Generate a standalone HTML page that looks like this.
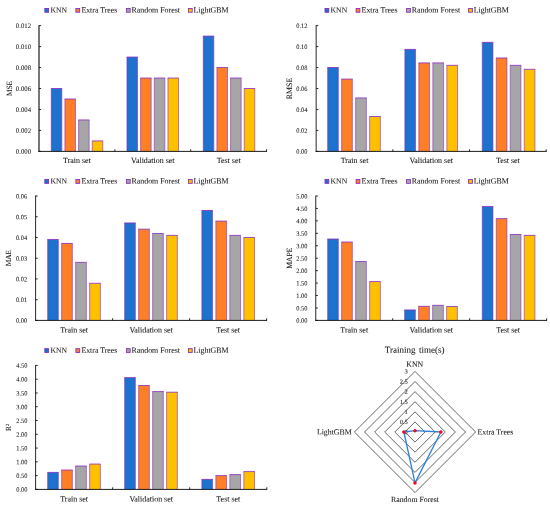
<!DOCTYPE html>
<html lang="en">
<head>
<meta charset="utf-8">
<title>Model comparison charts</title>
<style>
html,body{margin:0;padding:0;background:#fff;}
body{width:550px;height:510px;overflow:hidden;}
svg{display:block;font-family:'Liberation Serif','Times New Roman',serif;fill:#111;text-rendering:geometricPrecision;}
svg text{fill:#151515;stroke:#151515;stroke-width:0.06px;}
</style>
</head>
<body>
<svg width="550" height="510" viewBox="0 0 550 510">
<rect width="550" height="510" fill="#fff"/>
<rect x="51.25" y="88.50" width="10.55" height="62.90" fill="#1d72cd"/>
<path d="M51.25 151.40V88.50M61.80 88.50V151.40" fill="none" stroke="#8a28c2" stroke-width="0.6"/>
<path d="M50.95 88.50h11.15" fill="none" stroke="#8a28c2" stroke-width="0.8"/>
<rect x="64.92" y="98.98" width="10.55" height="52.42" fill="#ff7f27"/>
<path d="M64.92 151.40V98.98M75.47 98.98V151.40" fill="none" stroke="#8a28c2" stroke-width="0.6"/>
<path d="M64.62 98.98h11.15" fill="none" stroke="#8a28c2" stroke-width="0.8"/>
<rect x="78.59" y="119.95" width="10.55" height="31.45" fill="#a6a6a6"/>
<path d="M78.59 151.40V119.95M89.14 119.95V151.40" fill="none" stroke="#8a28c2" stroke-width="0.6"/>
<path d="M78.29 119.95h11.15" fill="none" stroke="#8a28c2" stroke-width="0.8"/>
<rect x="92.26" y="140.92" width="10.55" height="10.48" fill="#ffc000"/>
<path d="M92.26 151.40V140.92M102.81 140.92V151.40" fill="none" stroke="#8a28c2" stroke-width="0.6"/>
<path d="M91.96 140.92h11.15" fill="none" stroke="#8a28c2" stroke-width="0.8"/>
<text transform="translate(76.93 163.10) rotate(0.05)" font-size="7.95" text-anchor="middle">Train set</text>
<rect x="126.95" y="57.05" width="10.55" height="94.35" fill="#1d72cd"/>
<path d="M126.95 151.40V57.05M137.50 57.05V151.40" fill="none" stroke="#8a28c2" stroke-width="0.6"/>
<path d="M126.65 57.05h11.15" fill="none" stroke="#8a28c2" stroke-width="0.8"/>
<rect x="140.62" y="78.02" width="10.55" height="73.38" fill="#ff7f27"/>
<path d="M140.62 151.40V78.02M151.17 78.02V151.40" fill="none" stroke="#8a28c2" stroke-width="0.6"/>
<path d="M140.32 78.02h11.15" fill="none" stroke="#8a28c2" stroke-width="0.8"/>
<rect x="154.29" y="78.02" width="10.55" height="73.38" fill="#a6a6a6"/>
<path d="M154.29 151.40V78.02M164.84 78.02V151.40" fill="none" stroke="#8a28c2" stroke-width="0.6"/>
<path d="M153.99 78.02h11.15" fill="none" stroke="#8a28c2" stroke-width="0.8"/>
<rect x="167.96" y="78.02" width="10.55" height="73.38" fill="#ffc000"/>
<path d="M167.96 151.40V78.02M178.51 78.02V151.40" fill="none" stroke="#8a28c2" stroke-width="0.6"/>
<path d="M167.66 78.02h11.15" fill="none" stroke="#8a28c2" stroke-width="0.8"/>
<text transform="translate(152.80 163.10) rotate(0.05)" font-size="7.95" text-anchor="middle">Validation set</text>
<rect x="203.25" y="36.08" width="10.55" height="115.32" fill="#1d72cd"/>
<path d="M203.25 151.40V36.08M213.80 36.08V151.40" fill="none" stroke="#8a28c2" stroke-width="0.6"/>
<path d="M202.95 36.08h11.15" fill="none" stroke="#8a28c2" stroke-width="0.8"/>
<rect x="216.92" y="67.53" width="10.55" height="83.87" fill="#ff7f27"/>
<path d="M216.92 151.40V67.53M227.47 67.53V151.40" fill="none" stroke="#8a28c2" stroke-width="0.6"/>
<path d="M216.62 67.53h11.15" fill="none" stroke="#8a28c2" stroke-width="0.8"/>
<rect x="230.59" y="78.02" width="10.55" height="73.38" fill="#a6a6a6"/>
<path d="M230.59 151.40V78.02M241.14 78.02V151.40" fill="none" stroke="#8a28c2" stroke-width="0.6"/>
<path d="M230.29 78.02h11.15" fill="none" stroke="#8a28c2" stroke-width="0.8"/>
<rect x="244.26" y="88.50" width="10.55" height="62.90" fill="#ffc000"/>
<path d="M244.26 151.40V88.50M254.81 88.50V151.40" fill="none" stroke="#8a28c2" stroke-width="0.6"/>
<path d="M243.96 88.50h11.15" fill="none" stroke="#8a28c2" stroke-width="0.8"/>
<text transform="translate(228.67 163.10) rotate(0.05)" font-size="7.95" text-anchor="middle">Test set</text>
<path d="M39.00 25.20V151.90" fill="none" stroke="#1c1c1c" stroke-width="1.2"/>
<path d="M38.40 151.40H267.00" fill="none" stroke="#1c1c1c" stroke-width="1.0"/>
<path d="M39.00 151.40h2.1" stroke="#111" stroke-width="0.9"/>
<text transform="translate(31.00 153.85) rotate(0.05) scale(0.97 1)" font-size="6.95" text-anchor="end">0.000</text>
<path d="M39.00 130.43h2.1" stroke="#111" stroke-width="0.9"/>
<text transform="translate(31.00 132.88) rotate(0.05) scale(0.97 1)" font-size="6.95" text-anchor="end">0.002</text>
<path d="M39.00 109.47h2.1" stroke="#111" stroke-width="0.9"/>
<text transform="translate(31.00 111.92) rotate(0.05) scale(0.97 1)" font-size="6.95" text-anchor="end">0.004</text>
<path d="M39.00 88.50h2.1" stroke="#111" stroke-width="0.9"/>
<text transform="translate(31.00 90.95) rotate(0.05) scale(0.97 1)" font-size="6.95" text-anchor="end">0.006</text>
<path d="M39.00 67.53h2.1" stroke="#111" stroke-width="0.9"/>
<text transform="translate(31.00 69.98) rotate(0.05) scale(0.97 1)" font-size="6.95" text-anchor="end">0.008</text>
<path d="M39.00 46.57h2.1" stroke="#111" stroke-width="0.9"/>
<text transform="translate(31.00 49.02) rotate(0.05) scale(0.97 1)" font-size="6.95" text-anchor="end">0.010</text>
<path d="M39.00 25.60h2.1" stroke="#111" stroke-width="0.9"/>
<text transform="translate(31.00 28.05) rotate(0.05) scale(0.97 1)" font-size="6.95" text-anchor="end">0.012</text>
<path d="M114.87 151.40v-2.1" stroke="#111" stroke-width="0.9"/>
<path d="M190.73 151.40v-2.1" stroke="#111" stroke-width="0.9"/>
<path d="M266.60 151.40v-2.1" stroke="#111" stroke-width="0.9"/>
<text transform="translate(11.90 88.50) rotate(-90) scale(0.92 1)" font-size="8.0" text-anchor="middle">MSE</text>
<rect x="44.80" y="8.45" width="3.8" height="3.8" fill="#1d72cd" stroke="#8a28c2" stroke-width="0.85"/>
<text transform="translate(50.40 12.45) rotate(0.05)" font-size="7.65">KNN</text>
<rect x="75.90" y="8.45" width="3.8" height="3.8" fill="#ff7f27" stroke="#8a28c2" stroke-width="0.85"/>
<text transform="translate(81.40 12.45) rotate(0.05)" font-size="7.85">Extra Trees</text>
<rect x="126.40" y="8.45" width="3.8" height="3.8" fill="#a6a6a6" stroke="#8a28c2" stroke-width="0.85"/>
<text transform="translate(131.50 12.45) rotate(0.05)" font-size="7.9">Random Forest</text>
<rect x="188.40" y="8.45" width="3.8" height="3.8" fill="#ffc000" stroke="#8a28c2" stroke-width="0.85"/>
<text transform="translate(193.50 12.45) rotate(0.05)" font-size="7.9">LightGBM</text>
<rect x="327.65" y="67.53" width="10.7" height="83.87" fill="#1d72cd"/>
<path d="M327.65 151.40V67.53M338.35 67.53V151.40" fill="none" stroke="#8a28c2" stroke-width="0.6"/>
<path d="M327.35 67.53h11.30" fill="none" stroke="#8a28c2" stroke-width="0.8"/>
<rect x="341.65" y="79.06" width="10.7" height="72.34" fill="#ff7f27"/>
<path d="M341.65 151.40V79.06M352.35 79.06V151.40" fill="none" stroke="#8a28c2" stroke-width="0.6"/>
<path d="M341.35 79.06h11.30" fill="none" stroke="#8a28c2" stroke-width="0.8"/>
<rect x="355.65" y="97.94" width="10.7" height="53.47" fill="#a6a6a6"/>
<path d="M355.65 151.40V97.94M366.35 97.94V151.40" fill="none" stroke="#8a28c2" stroke-width="0.6"/>
<path d="M355.35 97.94h11.30" fill="none" stroke="#8a28c2" stroke-width="0.8"/>
<rect x="369.65" y="116.49" width="10.7" height="34.91" fill="#ffc000"/>
<path d="M369.65 151.40V116.49M380.35 116.49V151.40" fill="none" stroke="#8a28c2" stroke-width="0.6"/>
<path d="M369.35 116.49h11.30" fill="none" stroke="#8a28c2" stroke-width="0.8"/>
<text transform="translate(354.49 163.10) rotate(0.05)" font-size="7.95" text-anchor="middle">Train set</text>
<rect x="404.85" y="49.40" width="10.7" height="102.00" fill="#1d72cd"/>
<path d="M404.85 151.40V49.40M415.55 49.40V151.40" fill="none" stroke="#8a28c2" stroke-width="0.6"/>
<path d="M404.55 49.40h11.30" fill="none" stroke="#8a28c2" stroke-width="0.8"/>
<rect x="418.85" y="62.92" width="10.7" height="88.48" fill="#ff7f27"/>
<path d="M418.85 151.40V62.92M429.55 62.92V151.40" fill="none" stroke="#8a28c2" stroke-width="0.6"/>
<path d="M418.55 62.92h11.30" fill="none" stroke="#8a28c2" stroke-width="0.8"/>
<rect x="432.85" y="62.92" width="10.7" height="88.48" fill="#a6a6a6"/>
<path d="M432.85 151.40V62.92M443.55 62.92V151.40" fill="none" stroke="#8a28c2" stroke-width="0.6"/>
<path d="M432.55 62.92h11.30" fill="none" stroke="#8a28c2" stroke-width="0.8"/>
<rect x="446.85" y="65.33" width="10.7" height="86.07" fill="#ffc000"/>
<path d="M446.85 151.40V65.33M457.55 65.33V151.40" fill="none" stroke="#8a28c2" stroke-width="0.6"/>
<path d="M446.55 65.33h11.30" fill="none" stroke="#8a28c2" stroke-width="0.8"/>
<text transform="translate(431.18 163.10) rotate(0.05)" font-size="7.95" text-anchor="middle">Validation set</text>
<rect x="482.25" y="42.37" width="10.7" height="109.03" fill="#1d72cd"/>
<path d="M482.25 151.40V42.37M492.95 42.37V151.40" fill="none" stroke="#8a28c2" stroke-width="0.6"/>
<path d="M481.95 42.37h11.30" fill="none" stroke="#8a28c2" stroke-width="0.8"/>
<rect x="496.25" y="57.99" width="10.7" height="93.41" fill="#ff7f27"/>
<path d="M496.25 151.40V57.99M506.95 57.99V151.40" fill="none" stroke="#8a28c2" stroke-width="0.6"/>
<path d="M495.95 57.99h11.30" fill="none" stroke="#8a28c2" stroke-width="0.8"/>
<rect x="510.25" y="65.33" width="10.7" height="86.07" fill="#a6a6a6"/>
<path d="M510.25 151.40V65.33M520.95 65.33V151.40" fill="none" stroke="#8a28c2" stroke-width="0.6"/>
<path d="M509.95 65.33h11.30" fill="none" stroke="#8a28c2" stroke-width="0.8"/>
<rect x="524.25" y="69.32" width="10.7" height="82.08" fill="#ffc000"/>
<path d="M524.25 151.40V69.32M534.95 69.32V151.40" fill="none" stroke="#8a28c2" stroke-width="0.6"/>
<path d="M523.95 69.32h11.30" fill="none" stroke="#8a28c2" stroke-width="0.8"/>
<text transform="translate(507.86 163.10) rotate(0.05)" font-size="7.95" text-anchor="middle">Test set</text>
<path d="M316.15 25.20V151.90" fill="none" stroke="#1c1c1c" stroke-width="0.95"/>
<path d="M315.67 151.40H546.60" fill="none" stroke="#1c1c1c" stroke-width="1.0"/>
<path d="M316.15 151.40h2.1" stroke="#111" stroke-width="0.9"/>
<text transform="translate(307.40 153.85) rotate(0.05) scale(0.97 1)" font-size="6.6" text-anchor="end">0.00</text>
<path d="M316.15 130.43h2.1" stroke="#111" stroke-width="0.9"/>
<text transform="translate(307.40 132.88) rotate(0.05) scale(0.97 1)" font-size="6.6" text-anchor="end">0.02</text>
<path d="M316.15 109.47h2.1" stroke="#111" stroke-width="0.9"/>
<text transform="translate(307.40 111.92) rotate(0.05) scale(0.97 1)" font-size="6.6" text-anchor="end">0.04</text>
<path d="M316.15 88.50h2.1" stroke="#111" stroke-width="0.9"/>
<text transform="translate(307.40 90.95) rotate(0.05) scale(0.97 1)" font-size="6.6" text-anchor="end">0.06</text>
<path d="M316.15 67.53h2.1" stroke="#111" stroke-width="0.9"/>
<text transform="translate(307.40 69.98) rotate(0.05) scale(0.97 1)" font-size="6.6" text-anchor="end">0.08</text>
<path d="M316.15 46.57h2.1" stroke="#111" stroke-width="0.9"/>
<text transform="translate(307.40 49.02) rotate(0.05) scale(0.97 1)" font-size="6.6" text-anchor="end">0.10</text>
<path d="M316.15 25.60h2.1" stroke="#111" stroke-width="0.9"/>
<text transform="translate(307.40 28.05) rotate(0.05) scale(0.97 1)" font-size="6.6" text-anchor="end">0.12</text>
<path d="M392.83 151.40v-2.1" stroke="#111" stroke-width="0.9"/>
<path d="M469.52 151.40v-2.1" stroke="#111" stroke-width="0.9"/>
<path d="M546.20 151.40v-2.1" stroke="#111" stroke-width="0.9"/>
<text transform="translate(292.00 88.50) rotate(-90) scale(0.96 1)" font-size="8.2" text-anchor="middle">RMSE</text>
<rect x="325.00" y="8.45" width="3.8" height="3.8" fill="#1d72cd" stroke="#8a28c2" stroke-width="0.85"/>
<text transform="translate(330.60 12.45) rotate(0.05)" font-size="7.65">KNN</text>
<rect x="356.10" y="8.45" width="3.8" height="3.8" fill="#ff7f27" stroke="#8a28c2" stroke-width="0.85"/>
<text transform="translate(361.60 12.45) rotate(0.05)" font-size="7.85">Extra Trees</text>
<rect x="406.60" y="8.45" width="3.8" height="3.8" fill="#a6a6a6" stroke="#8a28c2" stroke-width="0.85"/>
<text transform="translate(411.70 12.45) rotate(0.05)" font-size="7.9">Random Forest</text>
<rect x="468.60" y="8.45" width="3.8" height="3.8" fill="#ffc000" stroke="#8a28c2" stroke-width="0.85"/>
<text transform="translate(473.70 12.45) rotate(0.05)" font-size="7.9">LightGBM</text>
<rect x="47.65" y="239.54" width="10.7" height="80.86" fill="#1d72cd"/>
<path d="M47.65 320.40V239.54M58.35 239.54V320.40" fill="none" stroke="#8a28c2" stroke-width="0.6"/>
<path d="M47.35 239.54h11.30" fill="none" stroke="#8a28c2" stroke-width="0.8"/>
<rect x="61.65" y="243.48" width="10.7" height="76.92" fill="#ff7f27"/>
<path d="M61.65 320.40V243.48M72.35 243.48V320.40" fill="none" stroke="#8a28c2" stroke-width="0.6"/>
<path d="M61.35 243.48h11.30" fill="none" stroke="#8a28c2" stroke-width="0.8"/>
<rect x="75.65" y="262.35" width="10.7" height="58.05" fill="#a6a6a6"/>
<path d="M75.65 320.40V262.35M86.35 262.35V320.40" fill="none" stroke="#8a28c2" stroke-width="0.6"/>
<path d="M75.35 262.35h11.30" fill="none" stroke="#8a28c2" stroke-width="0.8"/>
<rect x="89.65" y="283.29" width="10.7" height="37.11" fill="#ffc000"/>
<path d="M89.65 320.40V283.29M100.35 283.29V320.40" fill="none" stroke="#8a28c2" stroke-width="0.6"/>
<path d="M89.35 283.29h11.30" fill="none" stroke="#8a28c2" stroke-width="0.8"/>
<text transform="translate(74.10 332.50) rotate(0.05)" font-size="7.95" text-anchor="middle">Train set</text>
<rect x="124.65" y="222.95" width="10.7" height="97.45" fill="#1d72cd"/>
<path d="M124.65 320.40V222.95M135.35 222.95V320.40" fill="none" stroke="#8a28c2" stroke-width="0.6"/>
<path d="M124.35 222.95h11.30" fill="none" stroke="#8a28c2" stroke-width="0.8"/>
<rect x="138.65" y="229.17" width="10.7" height="91.23" fill="#ff7f27"/>
<path d="M138.65 320.40V229.17M149.35 229.17V320.40" fill="none" stroke="#8a28c2" stroke-width="0.6"/>
<path d="M138.35 229.17h11.30" fill="none" stroke="#8a28c2" stroke-width="0.8"/>
<rect x="152.65" y="233.53" width="10.7" height="86.87" fill="#a6a6a6"/>
<path d="M152.65 320.40V233.53M163.35 233.53V320.40" fill="none" stroke="#8a28c2" stroke-width="0.6"/>
<path d="M152.35 233.53h11.30" fill="none" stroke="#8a28c2" stroke-width="0.8"/>
<rect x="166.65" y="235.39" width="10.7" height="85.01" fill="#ffc000"/>
<path d="M166.65 320.40V235.39M177.35 235.39V320.40" fill="none" stroke="#8a28c2" stroke-width="0.6"/>
<path d="M166.35 235.39h11.30" fill="none" stroke="#8a28c2" stroke-width="0.8"/>
<text transform="translate(151.10 332.50) rotate(0.05)" font-size="7.95" text-anchor="middle">Validation set</text>
<rect x="201.85" y="210.51" width="10.7" height="109.89" fill="#1d72cd"/>
<path d="M201.85 320.40V210.51M212.55 210.51V320.40" fill="none" stroke="#8a28c2" stroke-width="0.6"/>
<path d="M201.55 210.51h11.30" fill="none" stroke="#8a28c2" stroke-width="0.8"/>
<rect x="215.85" y="221.09" width="10.7" height="99.31" fill="#ff7f27"/>
<path d="M215.85 320.40V221.09M226.55 221.09V320.40" fill="none" stroke="#8a28c2" stroke-width="0.6"/>
<path d="M215.55 221.09h11.30" fill="none" stroke="#8a28c2" stroke-width="0.8"/>
<rect x="229.85" y="235.39" width="10.7" height="85.01" fill="#a6a6a6"/>
<path d="M229.85 320.40V235.39M240.55 235.39V320.40" fill="none" stroke="#8a28c2" stroke-width="0.6"/>
<path d="M229.55 235.39h11.30" fill="none" stroke="#8a28c2" stroke-width="0.8"/>
<rect x="243.85" y="237.47" width="10.7" height="82.93" fill="#ffc000"/>
<path d="M243.85 320.40V237.47M254.55 237.47V320.40" fill="none" stroke="#8a28c2" stroke-width="0.6"/>
<path d="M243.55 237.47h11.30" fill="none" stroke="#8a28c2" stroke-width="0.8"/>
<text transform="translate(228.10 332.50) rotate(0.05)" font-size="7.95" text-anchor="middle">Test set</text>
<path d="M35.60 195.60V320.90" fill="none" stroke="#1c1c1c" stroke-width="0.95"/>
<path d="M35.12 320.40H267.00" fill="none" stroke="#1c1c1c" stroke-width="1.0"/>
<path d="M35.60 320.40h2.1" stroke="#111" stroke-width="0.9"/>
<text transform="translate(27.10 322.85) rotate(0.05) scale(0.97 1)" font-size="6.6" text-anchor="end">0.00</text>
<path d="M35.60 299.67h2.1" stroke="#111" stroke-width="0.9"/>
<text transform="translate(27.10 302.12) rotate(0.05) scale(0.97 1)" font-size="6.6" text-anchor="end">0.01</text>
<path d="M35.60 278.93h2.1" stroke="#111" stroke-width="0.9"/>
<text transform="translate(27.10 281.38) rotate(0.05) scale(0.97 1)" font-size="6.6" text-anchor="end">0.02</text>
<path d="M35.60 258.20h2.1" stroke="#111" stroke-width="0.9"/>
<text transform="translate(27.10 260.65) rotate(0.05) scale(0.97 1)" font-size="6.6" text-anchor="end">0.03</text>
<path d="M35.60 237.47h2.1" stroke="#111" stroke-width="0.9"/>
<text transform="translate(27.10 239.92) rotate(0.05) scale(0.97 1)" font-size="6.6" text-anchor="end">0.04</text>
<path d="M35.60 216.73h2.1" stroke="#111" stroke-width="0.9"/>
<text transform="translate(27.10 219.18) rotate(0.05) scale(0.97 1)" font-size="6.6" text-anchor="end">0.05</text>
<path d="M35.60 196.00h2.1" stroke="#111" stroke-width="0.9"/>
<text transform="translate(27.10 198.45) rotate(0.05) scale(0.97 1)" font-size="6.6" text-anchor="end">0.06</text>
<path d="M112.60 320.40v-2.1" stroke="#111" stroke-width="0.9"/>
<path d="M189.60 320.40v-2.1" stroke="#111" stroke-width="0.9"/>
<path d="M266.60 320.40v-2.1" stroke="#111" stroke-width="0.9"/>
<text transform="translate(11.20 258.20) rotate(-90) scale(0.94 1)" font-size="7.8" text-anchor="middle">MAE</text>
<rect x="44.80" y="179.55" width="3.8" height="3.8" fill="#1d72cd" stroke="#8a28c2" stroke-width="0.85"/>
<text transform="translate(50.40 183.55) rotate(0.05)" font-size="7.65">KNN</text>
<rect x="75.90" y="179.55" width="3.8" height="3.8" fill="#ff7f27" stroke="#8a28c2" stroke-width="0.85"/>
<text transform="translate(81.40 183.55) rotate(0.05)" font-size="7.85">Extra Trees</text>
<rect x="126.40" y="179.55" width="3.8" height="3.8" fill="#a6a6a6" stroke="#8a28c2" stroke-width="0.85"/>
<text transform="translate(131.50 183.55) rotate(0.05)" font-size="7.9">Random Forest</text>
<rect x="188.40" y="179.55" width="3.8" height="3.8" fill="#ffc000" stroke="#8a28c2" stroke-width="0.85"/>
<text transform="translate(193.50 183.55) rotate(0.05)" font-size="7.9">LightGBM</text>
<rect x="327.65" y="239.04" width="10.7" height="81.36" fill="#1d72cd"/>
<path d="M327.65 320.40V239.04M338.35 239.04V320.40" fill="none" stroke="#8a28c2" stroke-width="0.6"/>
<path d="M327.35 239.04h11.30" fill="none" stroke="#8a28c2" stroke-width="0.8"/>
<rect x="341.65" y="242.03" width="10.7" height="78.37" fill="#ff7f27"/>
<path d="M341.65 320.40V242.03M352.35 242.03V320.40" fill="none" stroke="#8a28c2" stroke-width="0.6"/>
<path d="M341.35 242.03h11.30" fill="none" stroke="#8a28c2" stroke-width="0.8"/>
<rect x="355.65" y="261.56" width="10.7" height="58.84" fill="#a6a6a6"/>
<path d="M355.65 320.40V261.56M366.35 261.56V320.40" fill="none" stroke="#8a28c2" stroke-width="0.6"/>
<path d="M355.35 261.56h11.30" fill="none" stroke="#8a28c2" stroke-width="0.8"/>
<rect x="369.65" y="281.59" width="10.7" height="38.81" fill="#ffc000"/>
<path d="M369.65 320.40V281.59M380.35 281.59V320.40" fill="none" stroke="#8a28c2" stroke-width="0.6"/>
<path d="M369.35 281.59h11.30" fill="none" stroke="#8a28c2" stroke-width="0.8"/>
<text transform="translate(354.23 332.50) rotate(0.05)" font-size="7.95" text-anchor="middle">Train set</text>
<rect x="404.65" y="309.95" width="10.7" height="10.45" fill="#1d72cd"/>
<path d="M404.65 320.40V309.95M415.35 309.95V320.40" fill="none" stroke="#8a28c2" stroke-width="0.6"/>
<path d="M404.35 309.95h11.30" fill="none" stroke="#8a28c2" stroke-width="0.8"/>
<rect x="418.65" y="306.32" width="10.7" height="14.08" fill="#ff7f27"/>
<path d="M418.65 320.40V306.32M429.35 306.32V320.40" fill="none" stroke="#8a28c2" stroke-width="0.6"/>
<path d="M418.35 306.32h11.30" fill="none" stroke="#8a28c2" stroke-width="0.8"/>
<rect x="432.65" y="305.32" width="10.7" height="15.08" fill="#a6a6a6"/>
<path d="M432.65 320.40V305.32M443.35 305.32V320.40" fill="none" stroke="#8a28c2" stroke-width="0.6"/>
<path d="M432.35 305.32h11.30" fill="none" stroke="#8a28c2" stroke-width="0.8"/>
<rect x="446.65" y="306.52" width="10.7" height="13.88" fill="#ffc000"/>
<path d="M446.65 320.40V306.52M457.35 306.52V320.40" fill="none" stroke="#8a28c2" stroke-width="0.6"/>
<path d="M446.35 306.52h11.30" fill="none" stroke="#8a28c2" stroke-width="0.8"/>
<text transform="translate(431.18 332.50) rotate(0.05)" font-size="7.95" text-anchor="middle">Validation set</text>
<rect x="482.25" y="206.57" width="10.7" height="113.83" fill="#1d72cd"/>
<path d="M482.25 320.40V206.57M492.95 206.57V320.40" fill="none" stroke="#8a28c2" stroke-width="0.6"/>
<path d="M481.95 206.57h11.30" fill="none" stroke="#8a28c2" stroke-width="0.8"/>
<rect x="496.25" y="218.64" width="10.7" height="101.76" fill="#ff7f27"/>
<path d="M496.25 320.40V218.64M506.95 218.64V320.40" fill="none" stroke="#8a28c2" stroke-width="0.6"/>
<path d="M495.95 218.64h11.30" fill="none" stroke="#8a28c2" stroke-width="0.8"/>
<rect x="510.25" y="234.56" width="10.7" height="85.84" fill="#a6a6a6"/>
<path d="M510.25 320.40V234.56M520.95 234.56V320.40" fill="none" stroke="#8a28c2" stroke-width="0.6"/>
<path d="M509.95 234.56h11.30" fill="none" stroke="#8a28c2" stroke-width="0.8"/>
<rect x="524.25" y="235.36" width="10.7" height="85.04" fill="#ffc000"/>
<path d="M524.25 320.40V235.36M534.95 235.36V320.40" fill="none" stroke="#8a28c2" stroke-width="0.6"/>
<path d="M523.95 235.36h11.30" fill="none" stroke="#8a28c2" stroke-width="0.8"/>
<text transform="translate(508.12 332.50) rotate(0.05)" font-size="7.95" text-anchor="middle">Test set</text>
<path d="M315.75 195.60V320.90" fill="none" stroke="#1c1c1c" stroke-width="0.95"/>
<path d="M315.27 320.40H547.00" fill="none" stroke="#1c1c1c" stroke-width="1.0"/>
<path d="M315.75 320.40h2.1" stroke="#111" stroke-width="0.9"/>
<text transform="translate(307.40 322.85) rotate(0.05) scale(0.97 1)" font-size="6.6" text-anchor="end">0.00</text>
<path d="M315.75 307.96h2.1" stroke="#111" stroke-width="0.9"/>
<text transform="translate(307.40 310.41) rotate(0.05) scale(0.97 1)" font-size="6.6" text-anchor="end">0.50</text>
<path d="M315.75 295.52h2.1" stroke="#111" stroke-width="0.9"/>
<text transform="translate(307.40 297.97) rotate(0.05) scale(0.97 1)" font-size="6.6" text-anchor="end">1.00</text>
<path d="M315.75 283.08h2.1" stroke="#111" stroke-width="0.9"/>
<text transform="translate(307.40 285.53) rotate(0.05) scale(0.97 1)" font-size="6.6" text-anchor="end">1.50</text>
<path d="M315.75 270.64h2.1" stroke="#111" stroke-width="0.9"/>
<text transform="translate(307.40 273.09) rotate(0.05) scale(0.97 1)" font-size="6.6" text-anchor="end">2.00</text>
<path d="M315.75 258.20h2.1" stroke="#111" stroke-width="0.9"/>
<text transform="translate(307.40 260.65) rotate(0.05) scale(0.97 1)" font-size="6.6" text-anchor="end">2.50</text>
<path d="M315.75 245.76h2.1" stroke="#111" stroke-width="0.9"/>
<text transform="translate(307.40 248.21) rotate(0.05) scale(0.97 1)" font-size="6.6" text-anchor="end">3.00</text>
<path d="M315.75 233.32h2.1" stroke="#111" stroke-width="0.9"/>
<text transform="translate(307.40 235.77) rotate(0.05) scale(0.97 1)" font-size="6.6" text-anchor="end">3.50</text>
<path d="M315.75 220.88h2.1" stroke="#111" stroke-width="0.9"/>
<text transform="translate(307.40 223.33) rotate(0.05) scale(0.97 1)" font-size="6.6" text-anchor="end">4.00</text>
<path d="M315.75 208.44h2.1" stroke="#111" stroke-width="0.9"/>
<text transform="translate(307.40 210.89) rotate(0.05) scale(0.97 1)" font-size="6.6" text-anchor="end">4.50</text>
<path d="M315.75 196.00h2.1" stroke="#111" stroke-width="0.9"/>
<text transform="translate(307.40 198.45) rotate(0.05) scale(0.97 1)" font-size="6.6" text-anchor="end">5.00</text>
<path d="M392.70 320.40v-2.1" stroke="#111" stroke-width="0.9"/>
<path d="M469.65 320.40v-2.1" stroke="#111" stroke-width="0.9"/>
<path d="M546.60 320.40v-2.1" stroke="#111" stroke-width="0.9"/>
<text transform="translate(292.00 258.20) rotate(-90) scale(0.95 1)" font-size="8.0" text-anchor="middle">MAPE</text>
<rect x="325.00" y="179.55" width="3.8" height="3.8" fill="#1d72cd" stroke="#8a28c2" stroke-width="0.85"/>
<text transform="translate(330.60 183.55) rotate(0.05)" font-size="7.65">KNN</text>
<rect x="356.10" y="179.55" width="3.8" height="3.8" fill="#ff7f27" stroke="#8a28c2" stroke-width="0.85"/>
<text transform="translate(361.60 183.55) rotate(0.05)" font-size="7.85">Extra Trees</text>
<rect x="406.60" y="179.55" width="3.8" height="3.8" fill="#a6a6a6" stroke="#8a28c2" stroke-width="0.85"/>
<text transform="translate(411.70 183.55) rotate(0.05)" font-size="7.9">Random Forest</text>
<rect x="468.60" y="179.55" width="3.8" height="3.8" fill="#ffc000" stroke="#8a28c2" stroke-width="0.85"/>
<text transform="translate(473.70 183.55) rotate(0.05)" font-size="7.9">LightGBM</text>
<rect x="47.65" y="472.40" width="10.7" height="17.00" fill="#1d72cd"/>
<path d="M47.65 489.40V472.40M58.35 472.40V489.40" fill="none" stroke="#8a28c2" stroke-width="0.6"/>
<path d="M47.35 472.40h11.30" fill="none" stroke="#8a28c2" stroke-width="0.8"/>
<rect x="61.65" y="470.00" width="10.7" height="19.40" fill="#ff7f27"/>
<path d="M61.65 489.40V470.00M72.35 470.00V489.40" fill="none" stroke="#8a28c2" stroke-width="0.6"/>
<path d="M61.35 470.00h11.30" fill="none" stroke="#8a28c2" stroke-width="0.8"/>
<rect x="75.65" y="466.01" width="10.7" height="23.39" fill="#a6a6a6"/>
<path d="M75.65 489.40V466.01M86.35 466.01V489.40" fill="none" stroke="#8a28c2" stroke-width="0.6"/>
<path d="M75.35 466.01h11.30" fill="none" stroke="#8a28c2" stroke-width="0.8"/>
<rect x="89.65" y="464.05" width="10.7" height="25.35" fill="#ffc000"/>
<path d="M89.65 489.40V464.05M100.35 464.05V489.40" fill="none" stroke="#8a28c2" stroke-width="0.6"/>
<path d="M89.35 464.05h11.30" fill="none" stroke="#8a28c2" stroke-width="0.8"/>
<text transform="translate(74.13 501.40) rotate(0.05)" font-size="7.95" text-anchor="middle">Train set</text>
<rect x="124.65" y="377.61" width="10.7" height="111.79" fill="#1d72cd"/>
<path d="M124.65 489.40V377.61M135.35 377.61V489.40" fill="none" stroke="#8a28c2" stroke-width="0.6"/>
<path d="M124.35 377.61h11.30" fill="none" stroke="#8a28c2" stroke-width="0.8"/>
<rect x="138.65" y="385.52" width="10.7" height="103.88" fill="#ff7f27"/>
<path d="M138.65 489.40V385.52M149.35 385.52V489.40" fill="none" stroke="#8a28c2" stroke-width="0.6"/>
<path d="M138.35 385.52h11.30" fill="none" stroke="#8a28c2" stroke-width="0.8"/>
<rect x="152.65" y="391.58" width="10.7" height="97.82" fill="#a6a6a6"/>
<path d="M152.65 489.40V391.58M163.35 391.58V489.40" fill="none" stroke="#8a28c2" stroke-width="0.6"/>
<path d="M152.35 391.58h11.30" fill="none" stroke="#8a28c2" stroke-width="0.8"/>
<rect x="166.65" y="392.21" width="10.7" height="97.19" fill="#ffc000"/>
<path d="M166.65 489.40V392.21M177.35 392.21V489.40" fill="none" stroke="#8a28c2" stroke-width="0.6"/>
<path d="M166.35 392.21h11.30" fill="none" stroke="#8a28c2" stroke-width="0.8"/>
<text transform="translate(151.20 501.40) rotate(0.05)" font-size="7.95" text-anchor="middle">Validation set</text>
<rect x="201.85" y="479.40" width="10.7" height="10.00" fill="#1d72cd"/>
<path d="M201.85 489.40V479.40M212.55 479.40V489.40" fill="none" stroke="#8a28c2" stroke-width="0.6"/>
<path d="M201.55 479.40h11.30" fill="none" stroke="#8a28c2" stroke-width="0.8"/>
<rect x="215.85" y="475.62" width="10.7" height="13.78" fill="#ff7f27"/>
<path d="M215.85 489.40V475.62M226.55 475.62V489.40" fill="none" stroke="#8a28c2" stroke-width="0.6"/>
<path d="M215.55 475.62h11.30" fill="none" stroke="#8a28c2" stroke-width="0.8"/>
<rect x="229.85" y="474.60" width="10.7" height="14.80" fill="#a6a6a6"/>
<path d="M229.85 489.40V474.60M240.55 474.60V489.40" fill="none" stroke="#8a28c2" stroke-width="0.6"/>
<path d="M229.55 474.60h11.30" fill="none" stroke="#8a28c2" stroke-width="0.8"/>
<rect x="243.85" y="471.60" width="10.7" height="17.80" fill="#ffc000"/>
<path d="M243.85 489.40V471.60M254.55 471.60V489.40" fill="none" stroke="#8a28c2" stroke-width="0.6"/>
<path d="M243.55 471.60h11.30" fill="none" stroke="#8a28c2" stroke-width="0.8"/>
<text transform="translate(228.27 501.40) rotate(0.05)" font-size="7.95" text-anchor="middle">Test set</text>
<path d="M35.60 365.00V489.90" fill="none" stroke="#1c1c1c" stroke-width="0.95"/>
<path d="M35.12 489.40H267.20" fill="none" stroke="#1c1c1c" stroke-width="1.0"/>
<path d="M35.60 489.40h2.1" stroke="#111" stroke-width="0.9"/>
<text transform="translate(27.40 491.85) rotate(0.05) scale(0.97 1)" font-size="6.6" text-anchor="end">0.00</text>
<path d="M35.60 475.62h2.1" stroke="#111" stroke-width="0.9"/>
<text transform="translate(27.40 478.07) rotate(0.05) scale(0.97 1)" font-size="6.6" text-anchor="end">0.50</text>
<path d="M35.60 461.84h2.1" stroke="#111" stroke-width="0.9"/>
<text transform="translate(27.40 464.29) rotate(0.05) scale(0.97 1)" font-size="6.6" text-anchor="end">1.00</text>
<path d="M35.60 448.07h2.1" stroke="#111" stroke-width="0.9"/>
<text transform="translate(27.40 450.52) rotate(0.05) scale(0.97 1)" font-size="6.6" text-anchor="end">1.50</text>
<path d="M35.60 434.29h2.1" stroke="#111" stroke-width="0.9"/>
<text transform="translate(27.40 436.74) rotate(0.05) scale(0.97 1)" font-size="6.6" text-anchor="end">2.00</text>
<path d="M35.60 420.51h2.1" stroke="#111" stroke-width="0.9"/>
<text transform="translate(27.40 422.96) rotate(0.05) scale(0.97 1)" font-size="6.6" text-anchor="end">2.50</text>
<path d="M35.60 406.73h2.1" stroke="#111" stroke-width="0.9"/>
<text transform="translate(27.40 409.18) rotate(0.05) scale(0.97 1)" font-size="6.6" text-anchor="end">3.00</text>
<path d="M35.60 392.96h2.1" stroke="#111" stroke-width="0.9"/>
<text transform="translate(27.40 395.41) rotate(0.05) scale(0.97 1)" font-size="6.6" text-anchor="end">3.50</text>
<path d="M35.60 379.18h2.1" stroke="#111" stroke-width="0.9"/>
<text transform="translate(27.40 381.63) rotate(0.05) scale(0.97 1)" font-size="6.6" text-anchor="end">4.00</text>
<path d="M35.60 365.40h2.1" stroke="#111" stroke-width="0.9"/>
<text transform="translate(27.40 367.85) rotate(0.05) scale(0.97 1)" font-size="6.6" text-anchor="end">4.50</text>
<path d="M112.67 489.40v-2.1" stroke="#111" stroke-width="0.9"/>
<path d="M189.73 489.40v-2.1" stroke="#111" stroke-width="0.9"/>
<path d="M266.80 489.40v-2.1" stroke="#111" stroke-width="0.9"/>
<text transform="translate(11.20 427.40) rotate(-90) scale(0.94 1)" font-size="7.8" text-anchor="middle">R²</text>
<rect x="44.80" y="348.65" width="3.8" height="3.8" fill="#1d72cd" stroke="#8a28c2" stroke-width="0.85"/>
<text transform="translate(50.40 352.65) rotate(0.05)" font-size="7.65">KNN</text>
<rect x="75.90" y="348.65" width="3.8" height="3.8" fill="#ff7f27" stroke="#8a28c2" stroke-width="0.85"/>
<text transform="translate(81.40 352.65) rotate(0.05)" font-size="7.85">Extra Trees</text>
<rect x="126.40" y="348.65" width="3.8" height="3.8" fill="#a6a6a6" stroke="#8a28c2" stroke-width="0.85"/>
<text transform="translate(131.50 352.65) rotate(0.05)" font-size="7.9">Random Forest</text>
<rect x="188.40" y="348.65" width="3.8" height="3.8" fill="#ffc000" stroke="#8a28c2" stroke-width="0.85"/>
<text transform="translate(193.50 352.65) rotate(0.05)" font-size="7.9">LightGBM</text>
<text transform="translate(414.60 352.70) rotate(0.05)" font-size="9.0" text-anchor="middle" word-spacing="1.3">Training time(s)</text>
<path d="M415.00 421.90L425.10 432.00L415.00 442.10L404.90 432.00Z" fill="none" stroke="#4c4c4c" stroke-width="0.85"/>
<path d="M415.00 411.80L435.20 432.00L415.00 452.20L394.80 432.00Z" fill="none" stroke="#4c4c4c" stroke-width="0.85"/>
<path d="M415.00 401.70L445.30 432.00L415.00 462.30L384.70 432.00Z" fill="none" stroke="#4c4c4c" stroke-width="0.85"/>
<path d="M415.00 391.60L455.40 432.00L415.00 472.40L374.60 432.00Z" fill="none" stroke="#4c4c4c" stroke-width="0.85"/>
<path d="M415.00 381.50L465.50 432.00L415.00 482.50L364.50 432.00Z" fill="none" stroke="#4c4c4c" stroke-width="0.85"/>
<path d="M415.00 371.40L475.60 432.00L415.00 492.60L354.40 432.00Z" fill="none" stroke="#4c4c4c" stroke-width="0.85"/>
<text transform="translate(407.80 434.20) rotate(0.05)" font-size="6.5" text-anchor="end">0</text>
<text transform="translate(407.80 424.10) rotate(0.05)" font-size="6.5" text-anchor="end">0.5</text>
<text transform="translate(407.80 414.00) rotate(0.05)" font-size="6.5" text-anchor="end">1</text>
<text transform="translate(407.80 403.90) rotate(0.05)" font-size="6.5" text-anchor="end">1.5</text>
<text transform="translate(407.80 393.80) rotate(0.05)" font-size="6.5" text-anchor="end">2</text>
<text transform="translate(407.80 383.70) rotate(0.05)" font-size="6.5" text-anchor="end">2.5</text>
<text transform="translate(407.80 373.60) rotate(0.05)" font-size="6.5" text-anchor="end">3</text>
<path d="M415.00 430.69L440.86 432.00L415.00 482.90L403.89 432.00Z" fill="none" stroke="#2b80dc" stroke-width="1.3" stroke-linejoin="round"/>
<circle cx="415.00" cy="430.69" r="1.75" fill="#f2081c"/>
<circle cx="440.86" cy="432.00" r="1.75" fill="#f2081c"/>
<circle cx="415.00" cy="482.90" r="1.75" fill="#f2081c"/>
<circle cx="403.89" cy="432.00" r="1.75" fill="#f2081c"/>
<text transform="translate(414.80 366.80) rotate(0.05)" font-size="7.8" text-anchor="middle">KNN</text>
<text transform="translate(477.60 434.40) rotate(0.05)" font-size="7.8">Extra Trees</text>
<text transform="translate(415.00 502.00) rotate(0.05)" font-size="7.8" text-anchor="middle">Random Forest</text>
<text transform="translate(351.60 434.40) rotate(0.05)" font-size="7.8" text-anchor="end">LightGBM</text>
</svg>
</body>
</html>
